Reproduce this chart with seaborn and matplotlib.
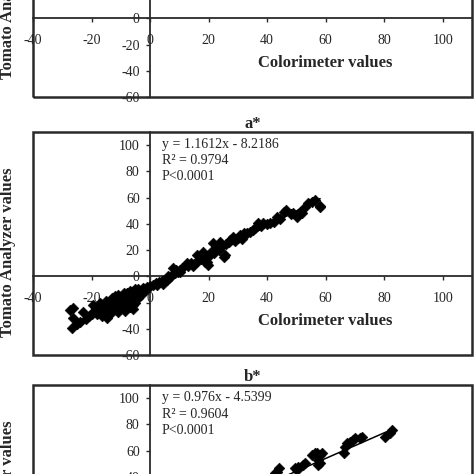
import matplotlib
matplotlib.use("Agg")
import matplotlib.pyplot as plt
from matplotlib.patches import Rectangle
import seaborn as sns
import pandas as pd
import numpy as np

# ---------------- data ----------------
a_x = [-27.4, -26.2, -26.2, -26.8, -25.0, -23.9, -22.8, -22.0, -21.0, -20.0,
       -19.5, -19.0, -18.5, -18.0, -17.5, -17.0, -16.5, -16.0, -15.5, -15.0,
       -14.8, -14.5, -14.0, -13.5, -13.0, -12.6, -12.0, -11.5, -11.0, -10.5,
       -10.0, -9.5, -9.0, -8.5, -8.0, -7.5, -7.0, -6.5, -6.3, -6.0,
       -5.8, -5.0, -4.5, -4.0, -3.5, -3.0, -2.3, -1.5, -1.0, 0.0,
       1.0, 2.3, 3.0, 4.0, 4.5, 5.7, 6.5, 7.0, 7.9, 8.5,
       9.0, 10.3, 10.3, 11.0, 12.5, 13.0, 14.0, 15.0, 16.0, 16.5,
       17.0, 18.2, 18.8, 19.4, 19.8, 20.0, 21.0, 21.6, 22.0, 22.8,
       23.5, 23.9, 24.5, 25.1, 25.6, 26.0, 27.0, 27.4, 28.5, 29.0,
       30.0, 30.8, 31.5, 32.0, 33.0, 34.0, 35.3, 36.0, 37.0, 38.0,
       38.7, 40.0, 41.0, 42.2, 43.3, 44.5, 45.6, 46.5, 48.0, 49.0,
       50.2, 51.3, 51.9, 53.0, 54.1, 55.3, 56.4, 57.9, 58.1,
       -17.0, -15.0, -13.0, -11.0, -9.0, -7.0, -5.0, -12.0, -8.0, -4.0,
       -16.0, -10.0, -6.0, -2.0, 2.0, 6.0, 9.5, 14.5, 17.5, 20.5]
a_y = [-25.7, -24.5, -32.0, -39.7, -36.5, -34.6, -27.0, -32.5, -30.5, -29.0,
       -21.9, -26.5, -24.0, -28.5, -22.5, -26.0, -30.0, -24.0, -27.5, -21.0,
       -32.0, -25.5, -23.0, -28.0, -20.5, -25.0, -22.5, -18.5, -27.0, -21.0,
       -24.5, -17.5, -22.0, -26.5, -19.5, -15.5, -23.5, -18.0, -11.8, -25.0,
       -14.0, -20.0, -13.0, -16.5, -11.5, -14.0, -9.2, -10.5, -8.0, -7.5,
       -6.5, -6.7, -4.5, -3.5, -5.5, -2.9, -1.0, 0.5, 6.3, 2.5,
       4.5, 3.5, 4.8, 6.0, 9.9, 7.5, 10.5, 9.0, 16.2, 12.0,
       14.5, 18.7, 11.1, 11.0, 8.6, 16.0, 19.5, 25.0, 17.5, 22.5,
       20.0, 26.3, 23.0, 14.9, 16.2, 24.5, 26.0, 27.6, 30.1, 27.0,
       29.5, 31.4, 28.5, 33.0, 32.7, 34.0, 35.2, 37.0, 40.3, 38.0,
       40.3, 39.5, 41.0, 41.6, 45.4, 44.0, 49.2, 50.5, 47.5, 47.9,
       45.4, 49.0, 47.9, 53.0, 55.6, 56.8, 58.1, 53.5, 53.0,
       -20.0, -18.5, -16.5, -14.5, -13.0, -11.0, -9.5, -15.0, -12.5, -10.0,
       -28.0, -23.0, -21.0, -9.5, -5.0, 0.0, 3.0, 8.0, 13.5, 16.5]

b_x = [82.6, 82.1, 80.3, 72.4, 71.8, 70.1, 69.5, 68.4, 67.2, 66.7,
       66.1, 58.7, 58.1, 57.0, 56.4, 55.3, 57.5, 58.1, 57.5, 53.0,
       52.4, 50.7, 50.2, 49.6, 43.9, 43.3, 42.7]
b_y = [75.7, 73.2, 70.6, 70.6, 69.5, 69.4, 68.1, 66.8, 65.6, 63.0,
       58.0, 58.0, 57.0, 58.5, 58.0, 56.7, 52.9, 50.3, 49.1, 50.3,
       49.1, 47.8, 45.2, 46.5, 46.5, 43.9, 42.7]

a_slope, a_int = 1.1612, -8.2186
b_slope, b_int = 0.976, -4.5399

panel_titles = ["L*", "a*", "b*"]
eq_texts = [None,
            ["y = 1.1612x - 8.2186", "R\u00b2 = 0.9794", "P<0.0001"],
            ["y = 0.976x - 4.5399", "R\u00b2 = 0.9604", "P<0.0001"]]
x_ticks = [-40, -20, 0, 20, 40, 60, 80, 100]
y_ticks = [-60, -40, -20, 0, 20, 40, 60, 80, 100]
x_label = "Colorimeter values"
y_label = "Tomato Analyzer values"

# ---------------- style ----------------
sns.set_style("white")
plt.rcParams["font.family"] = ["Liberation Serif", "DejaVu Serif"]

W = H = 474
fig = plt.figure(figsize=(W / 100, H / 100), dpi=100)

AX_COL = "#2a2a2a"
left_px, right_px = 33, 472
panel_h = 223
bottoms_px = [97, 355, 608]   # bottom edge of each plot frame (pixels from top)

datasets = [None, (a_x, a_y, a_slope, a_int), (b_x, b_y, b_slope, b_int)]

for i, bpx in enumerate(bottoms_px):
    ax = fig.add_axes([left_px / W, (H - bpx) / H,
                       (right_px - left_px) / W, panel_h / H])
    ax.set_xlim(-40, 110)
    ax.set_ylim(-60, 110)
    ax.patch.set_alpha(0)

    for s in ["top", "right"]:
        ax.spines[s].set_visible(False)
    ax.spines["left"].set_position(("data", 0))
    ax.spines["bottom"].set_position(("data", 0))
    for s in ["left", "bottom"]:
        ax.spines[s].set_color(AX_COL)
        ax.spines[s].set_linewidth(1.3)

    ax.add_patch(Rectangle((0, 0), 1, 1, transform=ax.transAxes, fill=False,
                           ec=AX_COL, lw=1.8, clip_on=False, zorder=5))

    ax.set_xticks(x_ticks)
    ax.set_yticks(y_ticks)
    ax.set_xticklabels([str(t) for t in x_ticks])
    ax.set_yticklabels([str(t) for t in y_ticks])
    ax.tick_params(axis="x", direction="out", length=3, width=1, color=AX_COL,
                   pad=8, labelsize=10, bottom=True)
    ax.tick_params(axis="y", direction="out", length=3, width=1, color=AX_COL,
                   pad=4.5, labelsize=10, left=True)

    ax.set_title(panel_titles[i], fontsize=12, fontweight="bold", pad=3)

    ax.text(60, -34, x_label, ha="center", va="center", fontsize=12,
            fontweight="bold")
    ax.text((8 - left_px) / (right_px - left_px), (355 - 252) / panel_h, y_label,
            transform=ax.transAxes, rotation=90, ha="center", va="center",
            fontsize=12, fontweight="bold", clip_on=False)

    if datasets[i] is not None:
        xs, ys, m, c = datasets[i]
        df = pd.DataFrame({"x": xs, "y": ys})
        sns.scatterplot(data=df, x="x", y="y", ax=ax, marker="D", s=30,
                        color="black", edgecolor="black", linewidth=0.4,
                        zorder=3)
        xl = np.array([min(xs), max(xs)])
        ax.plot(xl, m * xl + c, color="black", lw=1.1, zorder=4)
        ax.set_xlabel("")
        ax.set_ylabel("")
        for k, line in enumerate(eq_texts[i]):
            ax.text((162 - left_px) / (right_px - left_px),
                    (355 - 145 - 16 * k) / panel_h, line,
                    transform=ax.transAxes, ha="left", va="center",
                    fontsize=10)

fig.savefig("out.png", dpi=100)
